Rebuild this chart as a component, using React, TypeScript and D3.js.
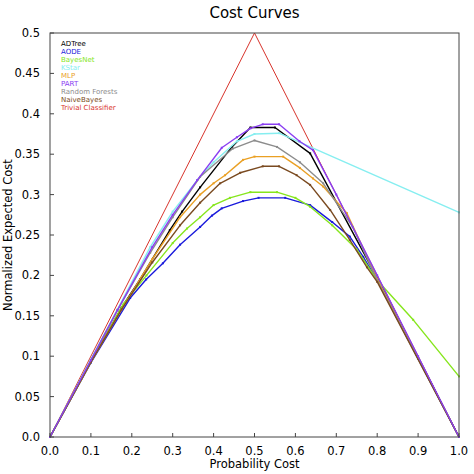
import React from 'react'
import * as d3 from 'd3'

// classifier names in legend order
const names = [
  'ADTree',
  'AODE',
  'BayesNet',
  'KStar',
  'MLP',
  'PART',
  'Random Forests',
  'NaiveBayes',
  'Trivial Classifier',
]

const colors = [
  '#000000',
  '#1a1adc',
  '#86e61c',
  '#86eef0',
  '#eaa024',
  '#8a3ef2',
  '#8c8c8c',
  '#7a4a20',
  '#d8342c',
]

// probability cost (x) and normalized expected cost (y) for each curve
const adtreeP = [0, 0.1, 0.175, 0.22, 0.293, 0.323, 0.367, 0.445, 0.49, 0.55, 0.636, 0.8, 1]
const adtreeC = [0, 0.093, 0.16, 0.195, 0.256, 0.279, 0.309, 0.359, 0.383, 0.383, 0.351, 0.197, 0]

const aodeP = [0, 0.1, 0.196, 0.235, 0.276, 0.318, 0.367, 0.396, 0.42, 0.472, 0.51, 0.575, 0.636, 0.69, 0.733, 0.766, 0.8, 0.9, 1]
const aodeC = [0, 0.092, 0.172, 0.195, 0.215, 0.238, 0.26, 0.274, 0.283, 0.292, 0.296, 0.296, 0.287, 0.266, 0.248, 0.223, 0.194, 0.097, 0]

const bayesNetP = [0, 0.1, 0.18, 0.236, 0.3, 0.335, 0.367, 0.4, 0.44, 0.49, 0.555, 0.6, 0.636, 0.69, 0.75, 0.8, 0.888, 1]
const bayesNetC = [0, 0.093, 0.165, 0.2, 0.24, 0.258, 0.272, 0.287, 0.296, 0.303, 0.303, 0.296, 0.285, 0.262, 0.232, 0.194, 0.145, 0.075]

const kstarP = [0, 0.1, 0.165, 0.245, 0.3, 0.36, 0.4, 0.457, 0.5, 0.56, 1]
const kstarC = [0, 0.096, 0.158, 0.235, 0.279, 0.318, 0.34, 0.366, 0.375, 0.376, 0.278]

const mlpP = [0, 0.1, 0.175, 0.25, 0.318, 0.367, 0.4, 0.428, 0.472, 0.5, 0.57, 0.611, 0.643, 0.668, 0.726, 0.8, 1]
const mlpC = [0, 0.093, 0.158, 0.22, 0.272, 0.3, 0.314, 0.324, 0.343, 0.347, 0.347, 0.333, 0.32, 0.31, 0.277, 0.196, 0]

const partP = [0, 0.1, 0.165, 0.25, 0.3, 0.36, 0.42, 0.457, 0.49, 0.52, 0.56, 0.61, 0.643, 0.7, 0.8, 0.9, 1]
const partC = [0, 0.095, 0.157, 0.235, 0.275, 0.318, 0.358, 0.371, 0.382, 0.387, 0.387, 0.366, 0.355, 0.3, 0.2, 0.1, 0]

const forestP = [0, 0.1, 0.165, 0.245, 0.3, 0.367, 0.447, 0.5, 0.555, 0.611, 0.668, 0.74, 0.8, 0.9, 1]
const forestC = [0, 0.095, 0.157, 0.228, 0.272, 0.322, 0.357, 0.367, 0.359, 0.34, 0.314, 0.26, 0.194, 0.097, 0]

const bayesP = [0, 0.1, 0.175, 0.25, 0.318, 0.367, 0.416, 0.465, 0.52, 0.56, 0.603, 0.636, 0.685, 0.733, 0.775, 0.8, 1]
const bayesC = [0, 0.093, 0.158, 0.216, 0.262, 0.29, 0.314, 0.327, 0.335, 0.335, 0.324, 0.312, 0.281, 0.244, 0.21, 0.192, 0]

const trivialP = [0, 0.5, 1]
const trivialC = [0, 0.5, 0]

const seriesP = [adtreeP, aodeP, bayesNetP, kstarP, mlpP, partP, forestP, bayesP, trivialP]
const seriesC = [adtreeC, aodeC, bayesNetC, kstarC, mlpC, partC, forestC, bayesC, trivialC]

const xTicks = [0, 0.1, 0.2, 0.3, 0.4, 0.5, 0.6, 0.7, 0.8, 0.9, 1]
const xTickLabels = ['0.0', '0.1', '0.2', '0.3', '0.4', '0.5', '0.6', '0.7', '0.8', '0.9', '1.0']
const yTicks = [0, 0.05, 0.1, 0.15, 0.2, 0.25, 0.3, 0.35, 0.4, 0.45, 0.5]
const yTickLabels = ['0.0', '0.05', '0.1', '0.15', '0.2', '0.25', '0.3', '0.35', '0.4', '0.45', '0.5']

export default function App() {
  const W = 474
  const H = 474
  const left = 50
  const right = 459
  const top = 33
  const bottom = 437
  const font = 'DejaVu Sans, Verdana, sans-serif'

  const x = d3.scaleLinear().domain([0, 1]).range([left, right])
  const y = d3.scaleLinear().domain([0, 0.5]).range([bottom, top])

  const line = d3
    .line<[number, number]>()
    .x((d) => x(d[0]))
    .y((d) => y(d[1]))

  // draw trivial classifier first so the others sit on top
  const order = [8, 0, 1, 2, 3, 4, 6, 7, 5]

  return (
    <svg
      width={W}
      height={H}
      style={{ position: 'absolute', left: 0, top: 0, background: '#fff' }}
      fontFamily={font}
    >
      <rect x={0} y={0} width={W} height={H} fill="#fff" />
      <text x={(left + right) / 2} y={18} textAnchor="middle" fontSize={15}>
        Cost Curves
      </text>

      {order.map((i) => {
        const pts: [number, number][] = seriesP[i].map((p, j) => [p, seriesC[i][j]])
        return (
          <g key={names[i]}>
            <path
              d={line(pts) || ''}
              fill="none"
              stroke={colors[i]}
              strokeWidth={i === 8 ? 1 : 1.4}
              strokeLinejoin="round"
            />
            {i !== 8 &&
              pts.map((d, j) => (
                <rect
                  key={j}
                  x={x(d[0]) - 1}
                  y={y(d[1]) - 1}
                  width={2}
                  height={2}
                  fill={colors[i]}
                />
              ))}
          </g>
        )
      })}

      {/* frame */}
      <rect
        x={left}
        y={top}
        width={right - left}
        height={bottom - top}
        fill="none"
        stroke="#444"
        strokeWidth={1}
      />

      {xTicks.map((t, i) => (
        <g key={'x' + i}>
          <line x1={x(t)} x2={x(t)} y1={bottom} y2={bottom - 4} stroke="#444" />
          <text x={x(t)} y={455} textAnchor="middle" fontSize={11.5}>
            {xTickLabels[i]}
          </text>
        </g>
      ))}
      {yTicks.map((t, i) => (
        <g key={'y' + i}>
          <line x1={left} x2={left + 4} y1={y(t)} y2={y(t)} stroke="#444" />
          <text x={40} y={y(t) + 4} textAnchor="end" fontSize={11.5}>
            {yTickLabels[i]}
          </text>
        </g>
      ))}

      <text x={(left + right) / 2} y={468} textAnchor="middle" fontSize={11.5}>
        Probability Cost
      </text>
      <text
        transform={`translate(12,${(top + bottom) / 2}) rotate(-90)`}
        textAnchor="middle"
        fontSize={11.5}
      >
        Normalized Expected Cost
      </text>

      {names.map((n, i) => (
        <text key={n} x={61} y={46 + i * 8} fontSize={7} fill={colors[i]}>
          {n}
        </text>
      ))}
    </svg>
  )
}
